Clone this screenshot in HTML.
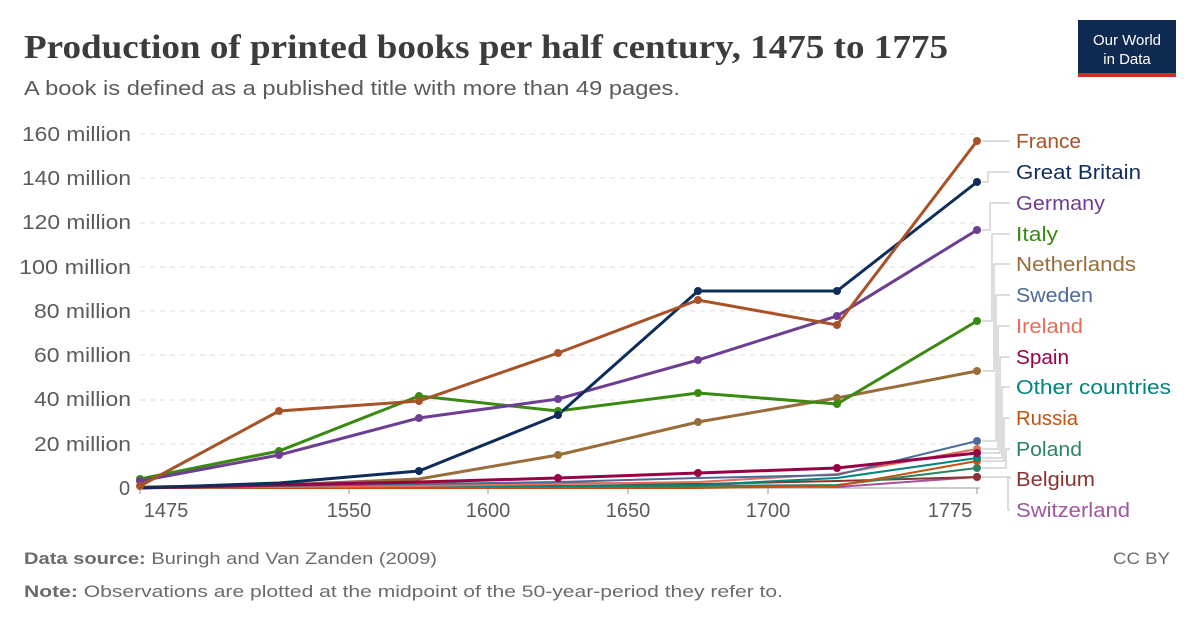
<!DOCTYPE html>
<html><head><meta charset="utf-8"><style>
body{margin:0;background:#fff;font-family:"Liberation Sans",sans-serif;}
</style></head><body>
<svg width="1200" height="627" xmlns="http://www.w3.org/2000/svg" font-family="Liberation Sans, sans-serif">
<rect width="1200" height="627" fill="#fff"/>
<text x="24" y="58" font-family="Liberation Serif, serif" font-size="34" font-weight="bold" fill="#3c3c3c" textLength="924" lengthAdjust="spacingAndGlyphs">Production of printed books per half century, 1475 to 1775</text>
<text x="24" y="95" font-size="20" fill="#5b5b5b" textLength="656" lengthAdjust="spacingAndGlyphs">A book is defined as a published title with more than 49 pages.</text>
<rect x="1078" y="20" width="98" height="55" fill="#0f2a50"/>
<rect x="1078" y="73" width="98" height="4" fill="#d42b2b"/>
<text x="1127" y="45" font-size="15" fill="#fff" text-anchor="middle">Our World</text>
<text x="1127" y="64" font-size="15" fill="#fff" text-anchor="middle">in Data</text>
<g font-size="20" fill="#5b5b5b">
<text x="22" y="141" textLength="109" lengthAdjust="spacingAndGlyphs">160 million</text><text x="22" y="185" textLength="109" lengthAdjust="spacingAndGlyphs">140 million</text><text x="22" y="229" textLength="109" lengthAdjust="spacingAndGlyphs">120 million</text><text x="19" y="274" textLength="112" lengthAdjust="spacingAndGlyphs">100 million</text><text x="34" y="318" textLength="97" lengthAdjust="spacingAndGlyphs">80 million</text><text x="34" y="362" textLength="97" lengthAdjust="spacingAndGlyphs">60 million</text><text x="34" y="406" textLength="97" lengthAdjust="spacingAndGlyphs">40 million</text><text x="34" y="451" textLength="97" lengthAdjust="spacingAndGlyphs">20 million</text><text x="119" y="495">0</text>
</g>
<g stroke="#ddd" stroke-dasharray="5,5">
<line x1="140" x2="980" y1="134" y2="134"/><line x1="140" x2="980" y1="178" y2="178"/><line x1="140" x2="980" y1="223" y2="223"/><line x1="140" x2="980" y1="267" y2="267"/><line x1="140" x2="980" y1="311" y2="311"/><line x1="140" x2="980" y1="355" y2="355"/><line x1="140" x2="980" y1="400" y2="400"/><line x1="140" x2="980" y1="444" y2="444"/>
</g>
<line x1="140" x2="980" y1="488" y2="488" stroke="#999"/>
<g stroke="#999"><line x1="140" x2="140" y1="488" y2="494"/><line x1="349" x2="349" y1="488" y2="494"/><line x1="488" x2="488" y1="488" y2="494"/><line x1="628" x2="628" y1="488" y2="494"/><line x1="768" x2="768" y1="488" y2="494"/><line x1="977" x2="977" y1="488" y2="494"/></g>
<g font-size="20" fill="#5b5b5b" text-anchor="middle">
<text x="166" y="517">1475</text><text x="349" y="517">1550</text><text x="488" y="517">1600</text><text x="628" y="517">1650</text><text x="768" y="517">1700</text><text x="950" y="517">1775</text>
</g>
<g fill="none" stroke-width="2">
<polyline stroke="#a2559c" points="140,488 279,484 419,486 558,486 698,485 837,487 977,477"/>
<polyline stroke="#8c3333" points="140,488 279,486 419,484 558,483 698,484 837,481 977,477"/>
<polyline stroke="#2c8465" points="140,488 279,487 419,487 558,486 698,486 837,485 977,468"/>
<polyline stroke="#c4520d" points="140,488 279,488 419,488 558,488 698,488 837,486 977,461"/>
<polyline stroke="#00847e" points="140,488 279,487 419,486 558,486 698,485 837,478 977,458"/>
<polyline stroke="#e56e5a" points="140,488 279,487 419,486 558,484 698,482 837,474 977,449"/>
<polyline stroke="#4c6a9c" points="140,488 279,486 419,484 558,482 698,478 837,475 977,441"/>
<polyline stroke="#996d39" points="140,487 279,485 419,479 558,455 698,422 837,398 977,371" stroke-width="3"/>
<polyline stroke="#970046" points="140,488 279,485 419,482 558,478 698,473 837,468 977,453" stroke-width="3"/>
<polyline stroke="#3a8a12" points="140,479 279,451 419,396 558,411 698,393 837,404 977,321" stroke-width="3"/>
<polyline stroke="#6d3e91" points="140,481 279,455 419,418 558,399 698,360 837,316 977,230" stroke-width="3"/>
<polyline stroke="#0f2d5a" points="140,488 279,483 419,471 558,415 698,291 837,291 977,182" stroke-width="3"/>
<polyline stroke="#a85228" points="140,486 279,411 419,401 558,353 698,300 837,325 977,141" stroke-width="3"/>
</g>
<g>
<circle cx="977" cy="477" r="4" fill="#a2559c"/><circle cx="977" cy="477" r="4" fill="#8c3333"/><circle cx="977" cy="468" r="4" fill="#2c8465"/><circle cx="977" cy="461" r="4" fill="#c4520d"/><circle cx="977" cy="458" r="4" fill="#00847e"/><circle cx="977" cy="449" r="4" fill="#e56e5a"/><circle cx="977" cy="441" r="4" fill="#4c6a9c"/>
<g fill="#996d39"><circle cx="558" cy="455" r="4"/><circle cx="698" cy="422" r="4"/><circle cx="837" cy="398" r="4"/><circle cx="977" cy="371" r="4"/></g>
<g fill="#970046"><circle cx="558" cy="478" r="4"/><circle cx="698" cy="473" r="4"/><circle cx="837" cy="468" r="4"/><circle cx="977" cy="453" r="4"/></g>
<g fill="#3a8a12"><circle cx="140" cy="479" r="4"/><circle cx="279" cy="451" r="4"/><circle cx="419" cy="396" r="4"/><circle cx="558" cy="411" r="4"/><circle cx="698" cy="393" r="4"/><circle cx="837" cy="404" r="4"/><circle cx="977" cy="321" r="4"/></g>
<g fill="#6d3e91"><circle cx="140" cy="481" r="4"/><circle cx="279" cy="455" r="4"/><circle cx="419" cy="418" r="4"/><circle cx="558" cy="399" r="4"/><circle cx="698" cy="360" r="4"/><circle cx="837" cy="316" r="4"/><circle cx="977" cy="230" r="4"/></g>
<g fill="#0f2d5a"><circle cx="419" cy="471" r="4"/><circle cx="558" cy="415" r="4"/><circle cx="698" cy="291" r="4"/><circle cx="837" cy="291" r="4"/><circle cx="977" cy="182" r="4"/></g>
<g fill="#a85228"><circle cx="140" cy="486" r="4"/><circle cx="279" cy="411" r="4"/><circle cx="419" cy="401" r="4"/><circle cx="558" cy="353" r="4"/><circle cx="698" cy="300" r="4"/><circle cx="837" cy="325" r="4"/><circle cx="977" cy="141" r="4"/></g>
</g>
<g fill="none" stroke="#bbb" stroke-width="1">
<path d="M982,141 H1010"/><path d="M982,182 H988 V172 H1010"/><path d="M982,230 H990 V203 H1010"/><path d="M982,321 H992 V234 H1010"/><path d="M982,371 H994 V264 H1010"/><path d="M982,441 H996 V295 H1010"/><path d="M982,449 H998 V326 H1010"/><path d="M982,453 H1000 V357 H1010"/><path d="M982,458 H1002 V387 H1010"/><path d="M982,461 H1004 V418 H1010"/><path d="M982,468 H1006 V449 H1010"/><path d="M982,477 H1010 V479"/><path d="M982,477 H1008 V510 H1010"/>
</g>
<g font-size="20">
<text x="1016" y="148" fill="#a85228" textLength="65" lengthAdjust="spacingAndGlyphs">France</text>
<text x="1016" y="179" fill="#0f2d5a" textLength="125" lengthAdjust="spacingAndGlyphs">Great Britain</text>
<text x="1016" y="210" fill="#6d3e91" textLength="89" lengthAdjust="spacingAndGlyphs">Germany</text>
<text x="1016" y="241" fill="#3a8a12" textLength="42" lengthAdjust="spacingAndGlyphs">Italy</text>
<text x="1016" y="271" fill="#996d39" textLength="120" lengthAdjust="spacingAndGlyphs">Netherlands</text>
<text x="1016" y="302" fill="#4c6a9c" textLength="77" lengthAdjust="spacingAndGlyphs">Sweden</text>
<text x="1016" y="333" fill="#e56e5a" textLength="67" lengthAdjust="spacingAndGlyphs">Ireland</text>
<text x="1016" y="364" fill="#970046" textLength="53" lengthAdjust="spacingAndGlyphs">Spain</text>
<text x="1016" y="394" fill="#00847e" textLength="155" lengthAdjust="spacingAndGlyphs">Other countries</text>
<text x="1016" y="425" fill="#c4520d" textLength="62" lengthAdjust="spacingAndGlyphs">Russia</text>
<text x="1016" y="456" fill="#2c8465" textLength="66" lengthAdjust="spacingAndGlyphs">Poland</text>
<text x="1016" y="486" fill="#8c3333" textLength="79" lengthAdjust="spacingAndGlyphs">Belgium</text>
<text x="1016" y="517" fill="#a2559c" textLength="114" lengthAdjust="spacingAndGlyphs">Switzerland</text>
</g>
<text x="24" y="564" font-size="17" fill="#6b6b6b" textLength="413" lengthAdjust="spacingAndGlyphs"><tspan font-weight="bold">Data source:</tspan> Buringh and Van Zanden (2009)</text>
<text x="1113" y="564" font-size="17" fill="#6b6b6b" textLength="57" lengthAdjust="spacingAndGlyphs">CC BY</text>
<text x="24" y="597" font-size="17" fill="#6b6b6b" textLength="759" lengthAdjust="spacingAndGlyphs"><tspan font-weight="bold">Note:</tspan> Observations are plotted at the midpoint of the 50-year-period they refer to.</text>
</svg>
</body></html>
